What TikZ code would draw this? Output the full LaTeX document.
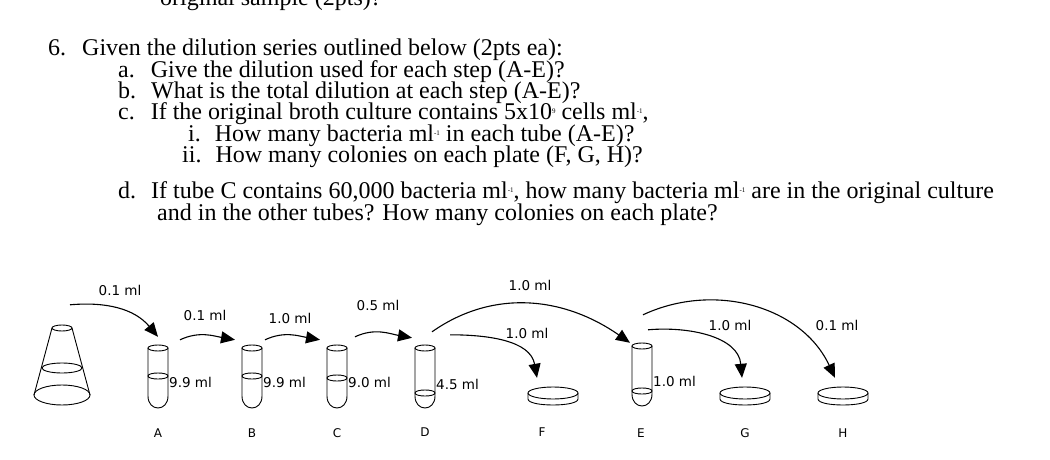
\documentclass[tikz,border=0pt]{standalone}
\usepackage{fontspec}
\setmainfont{Liberation Serif}
\newfontfamily\lab{DejaVu Sans}
\usetikzlibrary{arrows.meta}
\newcommand{\sups}[1]{\raisebox{6pt}{\fontsize{7}{7}\selectfont #1}}
\begin{document}
\begin{tikzpicture}[x=1pt,y=-1pt,
  q/.style={anchor=west,inner sep=0,font=\fontsize{24}{20}\selectfont},
  ml/.style={inner sep=1pt,font=\lab\fontsize{13.5}{14}\selectfont},
  letter/.style={inner sep=0,font=\lab\fontsize{12}{12}\selectfont},
  arr/.style={line width=1.1pt,-{Triangle[length=14pt,width=12pt]}},
  obj/.style={minimum width=22pt,minimum height=62pt,inner sep=0},
  vess/.style={line width=0.9pt},
  pics/tube/.style={code={
    \draw[vess] (0,0) ellipse [x radius=10,y radius=3];
    \draw[vess] (-10,0) -- (-10,48) .. controls (-10,64) and (10,64) .. (10,48) -- (10,0);
    \draw[vess] (-10,#1) .. controls (-10,#1+4) and (10,#1+4) .. (10,#1);
    \draw[vess] (-10,#1) .. controls (-10,#1-4) and (10,#1-4) .. (10,#1);
  }},
  pics/plate/.style={code={
    \draw[vess] (0,0) ellipse [x radius=25,y radius=6];
    \draw[vess] (-25,0) -- (-25,6) .. controls (-25,14) and (25,14) .. (25,6) -- (25,0);
  }}]
\useasboundingbox (0,0) rectangle (1050,460);
\fill[white] (0,0) rectangle (1050,460);
% text
\node[q] (t0) at (160,0) {original sample (2pts)?};
\node[q] (t1) at (48,50) {6.\hspace{16pt}Given the dilution series outlined below (2pts ea):};
\node[q] (t2) at (118,72) {a.\hspace{16pt}Give the dilution used for each step (A-E)?};
\node[q] (t3) at (118,93) {b.\hspace{15pt}What is the total dilution at each step (A-E)?};
\node[q] (t4) at (118,114) {c.\hspace{16pt}If the original broth culture contains 5x10\sups{9} cells ml\sups{-1},};
\node[q] (t5) at (188,136) {i.\hspace{14pt}How many bacteria ml\sups{-1} in each tube (A-E)?};
\node[q] (t6) at (182,157) {ii.\hspace{14pt}How many colonies on each plate (F, G, H)?};
\node[q] (t7) at (118,193) {d.\hspace{15pt}If tube C contains 60,000 bacteria ml\sups{-1}, how many bacteria ml\sups{-1} are in the original culture};
\node[q] (t8) at (157,215) {and in the other tubes? How many colonies on each plate?};
% flask
\node[obj,minimum width=58pt,minimum height=80pt] (fl) at (62,365) {};
\draw[vess] (62,328) ellipse [x radius=10,y radius=3];
\draw[vess] (52,328) -- (34,395);
\draw[vess] (72,328) -- (90,395);
\draw[vess] (62,368) ellipse [x radius=20,y radius=5];
\draw[vess] (62,395) ellipse [x radius=28,y radius=10];
% tubes
\node[obj] (A) at (158,378) {}; \pic at (158,348) {tube=28};
\node[obj] (B) at (252,378) {}; \pic at (252,348) {tube=28};
\node[obj] (C) at (337,378) {}; \pic at (337,348) {tube=30};
\node[obj] (D) at (425,378) {}; \pic at (425,348) {tube=45};
\node[obj] (E) at (642,378) {}; \pic at (642,346) {tube=45};
% plates
\node[obj,minimum width=52pt,minimum height=20pt] (F) at (553,397) {}; \pic at (553,393) {plate};
\node[obj,minimum width=52pt,minimum height=20pt] (G) at (745,397) {}; \pic at (745,393) {plate};
\node[obj,minimum width=52pt,minimum height=20pt] (H) at (843,397) {}; \pic at (843,393) {plate};
% letters
\node[letter] (lA) at (158,433) {A};
\node[letter] (lB) at (252,433) {B};
\node[letter] (lC) at (337,433) {C};
\node[letter] (lD) at (425,432) {D};
\node[letter] (lF) at (542,432) {F};
\node[letter] (lE) at (641,433) {E};
\node[letter] (lG) at (745,433) {G};
\node[letter] (lH) at (843,433) {H};
% volumes
\node[ml,anchor=west] (vA) at (168,382) {9.9 ml};
\node[ml,anchor=west] (vB) at (262,382) {9.9 ml};
\node[ml,anchor=west] (vC) at (347,382) {9.0 ml};
\node[ml,anchor=west] (vD) at (435,384) {4.5 ml};
\node[ml,anchor=west] (vE) at (652,381) {1.0 ml};
% arrows
\draw[arr] ([xshift=8pt,yshift=20pt]fl.north) to[out=5,in=130] ([yshift=10pt]A.north);
\draw[arr] ([xshift=22pt,yshift=7pt]A.north) to[out=25,in=170] ([xshift=-17pt,yshift=7pt]B.north);
\draw[arr] ([xshift=13pt,yshift=7pt]B.north) to[out=25,in=170] ([xshift=-17pt,yshift=7pt]C.north);
\draw[arr] ([xshift=18pt,yshift=10pt]C.north) to[out=25,in=170] ([xshift=-13pt,yshift=9pt]D.north);
\draw[arr] ([xshift=7pt,yshift=15pt]D.north) to[out=35,in=145] ([xshift=-12pt,yshift=4pt]E.north);
\draw[arr] ([xshift=25pt,yshift=12pt]D.north) to[out=0,in=100] ([xshift=-16pt,yshift=9pt]F.north);
\draw[arr] ([xshift=6pt,yshift=17pt]E.north) to[out=5,in=95] ([xshift=-3pt,yshift=9pt]G.north);
\draw[arr] ([xshift=1pt,yshift=32pt]E.north) to[out=25,in=115] ([xshift=-8pt,yshift=9pt]H.north);
% arrow labels
\node[ml] (a1) at (120,290) {0.1 ml};
\node[ml] (a2) at (205,315) {0.1 ml};
\node[ml] (a3) at (290,318) {1.0 ml};
\node[ml] (a4) at (378,305) {0.5 ml};
\node[ml] (a5) at (530,285) {1.0 ml};
\node[ml] (a6) at (527,333) {1.0 ml};
\node[ml] (a7) at (730,325) {1.0 ml};
\node[ml] (a8) at (837,325) {0.1 ml};
\end{tikzpicture}
\end{document}
